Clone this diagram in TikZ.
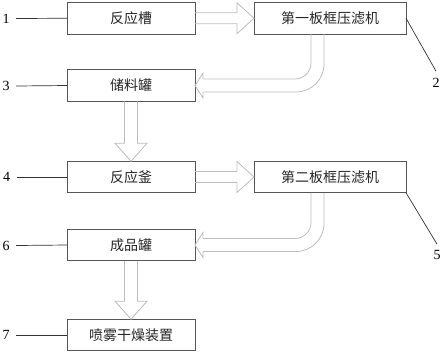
\documentclass[tikz,border=0pt]{standalone}
\usepackage{fontspec}
\setmainfont{Liberation Serif}
\newfontfamily\cjk{Noto Sans CJK SC}
\usetikzlibrary{calc}
\definecolor{boxline}{HTML}{555555}
\definecolor{arrline}{HTML}{BDBDBD}
\definecolor{lblline}{HTML}{333333}
\begin{document}
\begin{tikzpicture}[x=1pt,y=-1pt,
  box/.style={draw=boxline,line width=0.8pt,minimum height=31.5pt,inner sep=0pt,outer sep=0pt,font=\cjk\fontsize{14}{16}\selectfont,text=black!85},
  lbox/.style={box,minimum width=128pt},
  rbox/.style={box,minimum width=152pt},
  num/.style={inner xsep=6.5pt,inner ysep=0pt,font=\fontsize{14}{16}\selectfont},
  numlink/.style={draw=lblline,line width=0.7pt},
  hollow/.style={draw=arrline,line width=0.8pt,line join=miter}
]
\useasboundingbox (0,0) rectangle (443,354);
% boxes
\node[lbox] (b1) at (131,18.25) {反应槽};
\node[rbox] (b2) at (330,18.25) {第一板框压滤机};
\node[lbox] (b3) at (131,85.5) {储料罐};
\node[lbox] (b4) at (131,177) {反应釜};
\node[rbox] (b5) at (330,177) {第二板框压滤机};
\node[lbox] (b6) at (131,245) {成品罐};
\node[lbox] (b7) at (131,335) {喷雾干燥装置};
% number labels
\node[num] (l1) at (6,18.5) {1};
\node[num] (l3) at (6,86) {3};
\node[num] (l4) at (6.5,177) {4};
\node[num] (l6) at (6,245.5) {6};
\node[num] (l7) at (6,335) {7};
\node[num,inner ysep=7pt] (l2) at (436,83) {2};
\node[num,inner ysep=6pt] (l5) at (437,255) {5};
\draw[numlink] (l1.east) -- (b1.west);
\draw[numlink] (l3.east) -- (b3.west);
\draw[numlink] (l4.east) -- (b4.west);
\draw[numlink] (l6.east) -- (b6.west);
\draw[numlink] (l7.east) -- (b7.west);
\draw[numlink] (b2.east) -- (l2.north);
\draw[numlink] (b5.south east) -- (l5.north);
% straight horizontal hollow arrows
\foreach \a/\b in {b1/b2,b4/b5}{
  \draw[hollow] ($(\a.east)+(0,-5.5)$) -- ($(\b.west)+(-17,-5.5)$) -- ($(\b.west)+(-17,-15.5)$)
    -- (\b.west) -- ($(\b.west)+(-17,15.5)$) -- ($(\b.west)+(-17,5.5)$) -- ($(\a.east)+(0,5.5)$);
}
% straight vertical hollow arrows
\foreach \a/\b in {b3/b4,b6/b7}{
  \draw[hollow] ($(\a.south)+(-6.5,0)$) -- ($(\b.north)+(-6.5,-18)$) -- ($(\b.north)+(-16,-18)$)
    -- (\b.north) -- ($(\b.north)+(16,-18)$) -- ($(\b.north)+(6.5,-18)$) -- ($(\a.south)+(6.5,0)$);
}
% curved hollow arrows
\foreach \a/\b in {b2/b3,b5/b6}{
  \coordinate (k) at ($(\a.south)+(-12.5,0)$);
  \coordinate (kc) at (k |- \b.east);
  \draw[hollow,rounded corners=28pt] ($(k)+(6.5,0)$) -- ($(kc)+(6.5,6.5)$) -- ($(\b.east)+(8,6.5)$);
  \draw[hollow,rounded corners=16pt] ($(k)+(-6.5,0)$) -- ($(kc)+(-6.5,-6.5)$) -- ($(\b.east)+(8,-6.5)$);
  \draw[hollow] ($(\b.east)+(8,6.5)$) -- ($(\b.east)+(8,12.5)$) -- (\b.east) -- ($(\b.east)+(8,-12.5)$) -- ($(\b.east)+(8,-6.5)$);
}
\end{tikzpicture}
\end{document}
